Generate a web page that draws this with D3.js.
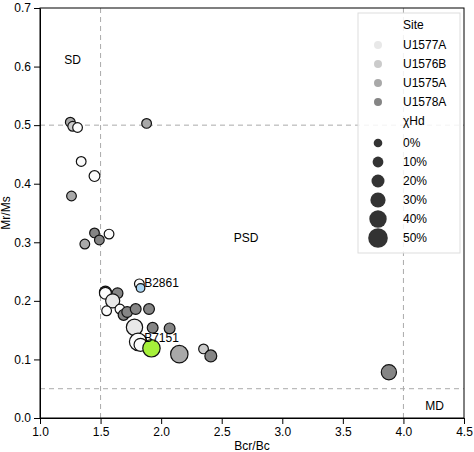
<!DOCTYPE html>
<html><head><meta charset="utf-8">
<script src="https://cdn.jsdelivr.net/npm/d3@7"></script>
<style>body{margin:0;background:#fff}text{font-family:Arial,"Liberation Sans",sans-serif}</style>
</head><body><svg></svg>
<script>
const width = 474, height = 452;
const margin = { left: 40, right: 10, top: 8, bottom: 34 };

// Bcr/Bc, Mr/Ms, site, chi Hd (%)
const bcrBc = [1.25,1.27,1.31,1.88,1.34,1.45,1.26,1.45,1.57,1.49,1.37,1.82,1.54,1.54,1.64,1.60,1.55,1.66,1.69,1.72,1.79,1.90,1.78,1.93,2.07,1.81,1.83,2.15,2.35,2.41,3.88,1.83,1.92];
const mrMs  = [0.505,0.498,0.496,0.503,0.438,0.413,0.379,0.316,0.314,0.304,0.297,0.229,0.215,0.213,0.213,0.200,0.183,0.186,0.176,0.181,0.186,0.186,0.155,0.154,0.153,0.130,0.125,0.109,0.118,0.106,0.078,0.222,0.119];
const site  = ["U1575A","U1576B","W","U1575A","W","W","U1575A","U1578A","W","U1578A","U1575A","W","U1578A","W","U1578A","U1577A","W","W","U1578A","U1578A","U1578A","U1578A","U1577A","U1578A","U1578A","W","W","U1575A","U1576B","U1578A","U1578A","B2861","B7151"];
const chiHd = [5,5,5,5,5,10,5,5,5,5,5,5,15,15,10,25,5,5,10,10,10,10,35,10,10,40,20,40,5,15,30,0,40];

const siteNames = ["U1577A","U1576B","U1575A","U1578A"];
const siteColors = ["#e8e8e8","#cbcbcb","#a9a9a9","#858585"];
const sizeLevels = [0,10,20,30,40,50];

const colorOf = { W: "#fbfbfb", B2861: "#a9d4f2", B7151: "#a6f03a" };
siteNames.forEach((s, i) => colorOf[s] = siteColors[i]);

const svg = d3.select("svg").attr("width", width).attr("height", height);
const x = d3.scaleLinear().domain([1, 4.5]).range([margin.left, width - margin.right]);
const y = d3.scaleLinear().domain([0, 0.7]).range([height - margin.bottom, margin.top]);
const r = d3.scaleLinear().domain([0, 50]).range([4.3, 9.8]);

// reference lines
const dash = "5,4";
[1.5, 4].forEach(v => svg.append("line").attr("x1", x(v)).attr("x2", x(v))
  .attr("y1", y(0)).attr("y2", y(0.7)).attr("stroke", "#aaa").attr("stroke-dasharray", dash));
[0.5, 0.05].forEach(v => svg.append("line").attr("y1", y(v)).attr("y2", y(v))
  .attr("x1", x(1)).attr("x2", x(4.5)).attr("stroke", "#aaa").attr("stroke-dasharray", dash));

// points
const idx = d3.range(bcrBc.length);
svg.selectAll(".dot").data(idx).enter().append("circle")
  .attr("cx", i => x(bcrBc[i])).attr("cy", i => y(mrMs[i])).attr("r", i => r(chiHd[i]))
  .attr("fill", i => colorOf[site[i]]).attr("stroke", "#111").attr("stroke-width", 1.2);

// axes
svg.append("g").attr("transform", `translate(0,${y(0)})`)
  .call(d3.axisBottom(x).tickValues(d3.range(1, 4.51, 0.5)).tickFormat(d3.format(".1f")).tickSizeOuter(0))
  .call(g => g.selectAll("text").attr("font-size", 12));
svg.append("g").attr("transform", `translate(${x(1)},0)`)
  .call(d3.axisLeft(y).ticks(7).tickFormat(d3.format(".1f")).tickSizeOuter(0))
  .call(g => g.selectAll("text").attr("font-size", 12));
svg.append("rect").attr("x", x(1)).attr("y", y(0.7)).attr("width", x(4.5) - x(1))
  .attr("height", y(0) - y(0.7)).attr("fill", "none").attr("stroke", "#000");

svg.append("text").attr("x", (x(1) + x(4.5)) / 2).attr("y", height - 2).attr("text-anchor", "middle")
  .attr("font-size", 12).text("Bcr/Bc");
svg.append("text").attr("transform", `translate(10,${(y(0) + y(0.7)) / 2}) rotate(-90)`)
  .attr("text-anchor", "middle").attr("font-size", 12).text("Mr/Ms");

const label = (t, px, py) => svg.append("text").attr("x", px).attr("y", py).attr("font-size", 12).text(t);
label("SD", x(1.2), y(0.612) + 4);
label("PSD", x(2.6), y(0.307) + 4);
label("MD", x(4.18), y(0.02) + 4);
label("B2861", x(1.86), y(0.231) + 4);
label("B7151", x(1.86), y(0.136) + 4);

// legend
const lg = svg.append("g");
lg.append("rect").attr("x", 358).attr("y", 13).attr("width", 102).attr("height", 240)
  .attr("fill", "#fff").attr("fill-opacity", 0.85).attr("stroke", "#ddd");
lg.append("text").attr("x", 403).attr("y", 29).attr("font-size", 12).text("Site");
siteNames.forEach((s, i) => {
  const cy = 45 + i * 19;
  lg.append("circle").attr("cx", 378).attr("cy", cy).attr("r", 4).attr("fill", siteColors[i]);
  lg.append("text").attr("x", 403).attr("y", cy + 4).attr("font-size", 12).text(s);
});
lg.append("text").attr("x", 403).attr("y", 125).attr("font-size", 12).text("χHd");
sizeLevels.forEach((p, i) => {
  const cy = 143 + i * 19;
  lg.append("circle").attr("cx", 378).attr("cy", cy).attr("r", r(p)).attr("fill", "#333");
  lg.append("text").attr("x", 403).attr("y", cy + 4).attr("font-size", 12).text(p + "%");
});
</script></body></html>
